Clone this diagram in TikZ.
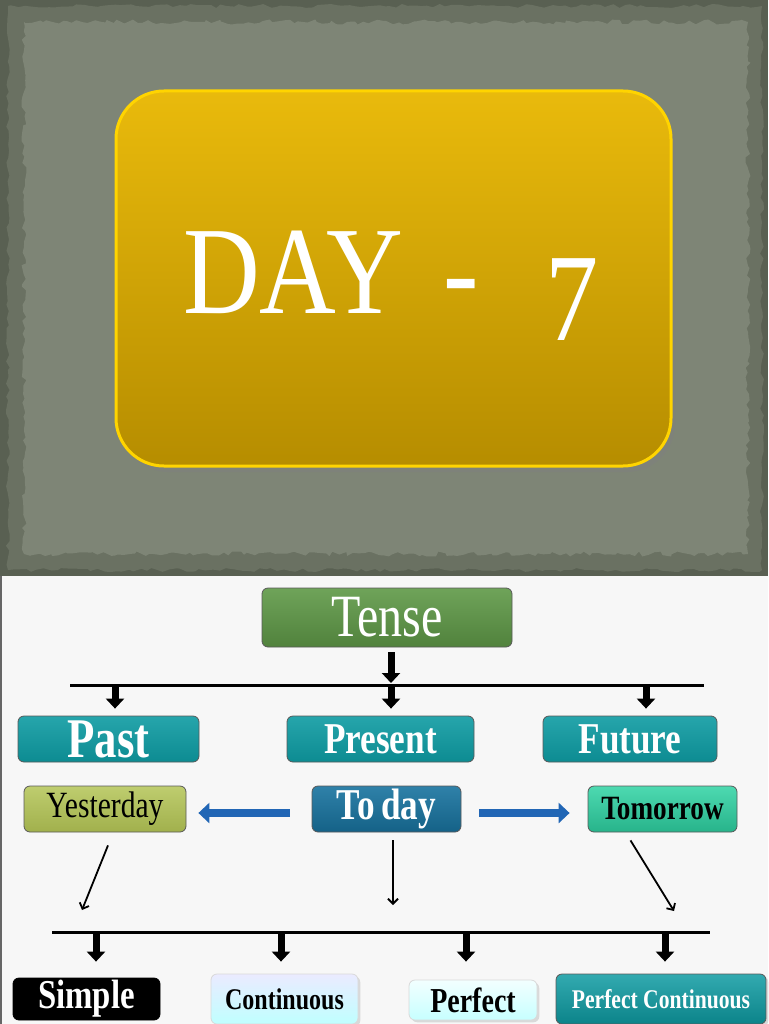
\documentclass[tikz,border=0pt]{standalone}
\usepackage{fontspec}
\setmainfont{Liberation Serif}
\newfontfamily\boxfont[FakeStretch=0.8]{Liberation Serif}
\newfontfamily\dayfont[FakeStretch=0.85]{Liberation Serif}
\usetikzlibrary{arrows.meta,shadows,decorations.pathmorphing,calc}
\definecolor{slate}{HTML}{596052}
\definecolor{rim}{HTML}{6A7162}
\definecolor{paper}{HTML}{7E8576}
\definecolor{goldtop}{HTML}{E9BA0C}
\definecolor{goldbot}{HTML}{B68D00}
\definecolor{goldrim}{HTML}{FFD400}
\definecolor{tensegreen}{HTML}{5F9947}
\definecolor{teal}{HTML}{0E9BA2}
\definecolor{olive}{HTML}{B3C455}
\definecolor{sea}{HTML}{18739F}
\definecolor{mint}{HTML}{2ED3A3}
\definecolor{arrowblue}{HTML}{2166B5}
\begin{document}
\begin{tikzpicture}[x=1pt,y=-1pt,line join=round,
 box/.style={draw=black!65,line width=.8pt,rounded corners=6pt,minimum height=46pt,
  inner sep=2pt,text=white,font=\boxfont\bfseries},
 fat/.style={line width=7pt,-{Triangle[width=18pt,length=10pt]}},
 thinarrow/.style={line width=1.8pt,-{Straight Barb[width=10pt,length=5pt]}},
 sidearrow/.style={draw=arrowblue,line width=8pt,-{Triangle[width=20pt,length=11pt]}},
 bar/.style={line width=3pt}]
 \useasboundingbox (0,0) rectangle (768,1024);
 % top half: slide with torn paper
 \fill[slate] (0,0) rectangle (768,576);
 \pgfmathsetseed{11}
 \fill[rim,decorate,decoration={random steps,segment length=6pt,amplitude=2pt}]
  (8,6) rectangle (762,570);
 \fill[paper,decorate,decoration={random steps,segment length=5pt,amplitude=2.5pt}]
  (24,22) rectangle (748,554);
 \node[draw=goldrim,line width=3pt,rounded corners=48pt,top color=goldtop,bottom color=goldbot,
  minimum width=555pt,minimum height=375pt,drop shadow={shadow xshift=4pt,shadow yshift=-6pt,opacity=.45}]
  (day) at (393.5,278.5) {};
 \node[anchor=base west,inner sep=0,text=white,font=\dayfont\fontsize{125}{125}\selectfont]
  (dayword) at (183,313) {DAY};
 \node[anchor=base west,inner sep=0,text=white,font=\dayfont\fontsize{125}{125}\selectfont]
  (dash) at (443,313) {-};
 \node[anchor=base west,inner sep=0,text=white,font=\dayfont\fontsize{125}{125}\selectfont]
  (seven) at (545,340) {7};
 % bottom half: the tense chart
 \fill[white!97!black] (0,576) rectangle (768,1024);
 \draw[black!60,line width=1.5pt] (0.75,576) -- (0.75,1024);
 \node[box,top color=tensegreen!90!white,bottom color=tensegreen!85!black,
  minimum width=250pt,minimum height=59pt,font=\boxfont\fontsize{60}{60}\selectfont]
  (tense) at (387,617.5) {Tense};
 \coordinate (upl) at (70,685);
 \coordinate (upr) at (704,685);
 \draw[bar] (upl) -- (upr);
 \draw[fat] ([xshift=4pt,yshift=-5pt]tense.south) -- ([xshift=4pt,yshift=2pt]tense.south |- upl);
 \node[box,top color=teal!90!white,bottom color=teal!90!black,minimum width=181pt,
  font=\boxfont\bfseries\fontsize{56}{56}\selectfont] (past) at (108.5,739) {Past};
 \node[box,top color=teal!90!white,bottom color=teal!90!black,minimum width=187pt,
  font=\boxfont\bfseries\fontsize{44}{44}\selectfont] (present) at (380.5,739) {Present};
 \node[box,top color=teal!90!white,bottom color=teal!90!black,minimum width=174pt,
  font=\boxfont\bfseries\fontsize{44}{44}\selectfont] (future) at (630,739) {Future};
 \draw[fat] ([xshift=6.5pt]past.north |- upl) -- ([xshift=6.5pt,yshift=7pt]past.north);
 \draw[fat] ([xshift=10.5pt]present.north |- upl) -- ([xshift=10.5pt,yshift=7pt]present.north);
 \draw[fat] ([xshift=16pt]future.north |- upl) -- ([xshift=16pt,yshift=7pt]future.north);
 \node[box,top color=olive!85!white,bottom color=olive!90!black,minimum width=162pt,text=black,
  font=\boxfont\fontsize{37}{37}\selectfont] (yesterday) at (105,809) {Yesterday};
 \node[box,top color=sea!90!white,bottom color=sea!85!black,minimum width=149pt,
  font=\boxfont\bfseries\fontsize{44}{44}\selectfont] (today) at (386.5,809) {To\hspace{.15em}day};
 \node[box,top color=mint!85!white,bottom color=mint!85!black,minimum width=149pt,text=black,
  font=\boxfont\bfseries\fontsize{34}{34}\selectfont] (tomorrow) at (662.5,809) {Tomorrow};
 \draw[sidearrow] ([xshift=-22pt,yshift=-4pt]today.west) -- ([xshift=12pt,yshift=-4pt]yesterday.east);
 \draw[sidearrow] ([xshift=18pt,yshift=-4pt]today.east) -- ([xshift=-18pt,yshift=-4pt]tomorrow.west);
 \coordinate (yend) at (82,910);
 \coordinate (tend) at (393,905);
 \coordinate (mend) at (674,911);
 \draw[thinarrow] ([xshift=3pt,yshift=-13pt]yesterday.south) -- (yend);
 \draw[thinarrow] ([xshift=6.5pt,yshift=-8pt]today.south) -- (tend);
 \draw[thinarrow] ([xshift=-32pt,yshift=-8pt]tomorrow.south) -- (mend);
 \coordinate (lowl) at (52,932);
 \coordinate (lowr) at (710,932);
 \draw[bar] (lowl) -- (lowr);
 \node[box,fill=black,draw=black,minimum width=147pt,minimum height=42pt,
  font=\boxfont\bfseries\fontsize{41}{41}\selectfont] (simple) at (86.5,999) {Simple};
 \node[box,draw=black!15,top color=blue!8!white,bottom color=cyan!25!white,text=black,
  minimum width=147pt,minimum height=50pt,drop shadow={opacity=.25},
  font=\boxfont\bfseries\fontsize{30}{30}\selectfont] (continuous) at (284.5,999) {Continuous};
 \node[box,draw=black!15,top color=cyan!5!white,bottom color=cyan!22!white,text=black,
  minimum width=128pt,minimum height=40pt,drop shadow={opacity=.25},
  font=\boxfont\bfseries\fontsize{35}{35}\selectfont] (perfect) at (473,1000) {Perfect};
 \node[box,top color=teal!85!white,bottom color=teal!85!black,minimum width=210pt,
  minimum height=50pt,drop shadow={opacity=.25},
  font=\boxfont\bfseries\fontsize{27}{27}\selectfont] (perfcont) at (661,999) {Perfect Continuous};
 \draw[fat] ([xshift=9.5pt]simple.north |- lowl) -- ([xshift=9.5pt,yshift=16pt]simple.north);
 \draw[fat] ([xshift=-3.5pt]continuous.north |- lowl) -- ([xshift=-3.5pt,yshift=12pt]continuous.north);
 \draw[fat] ([xshift=-7pt]perfect.north |- lowl) -- ([xshift=-7pt,yshift=18pt]perfect.north);
 \draw[fat] ([xshift=4pt]perfcont.north |- lowl) -- ([xshift=4pt,yshift=12pt]perfcont.north);
\end{tikzpicture}
\end{document}
